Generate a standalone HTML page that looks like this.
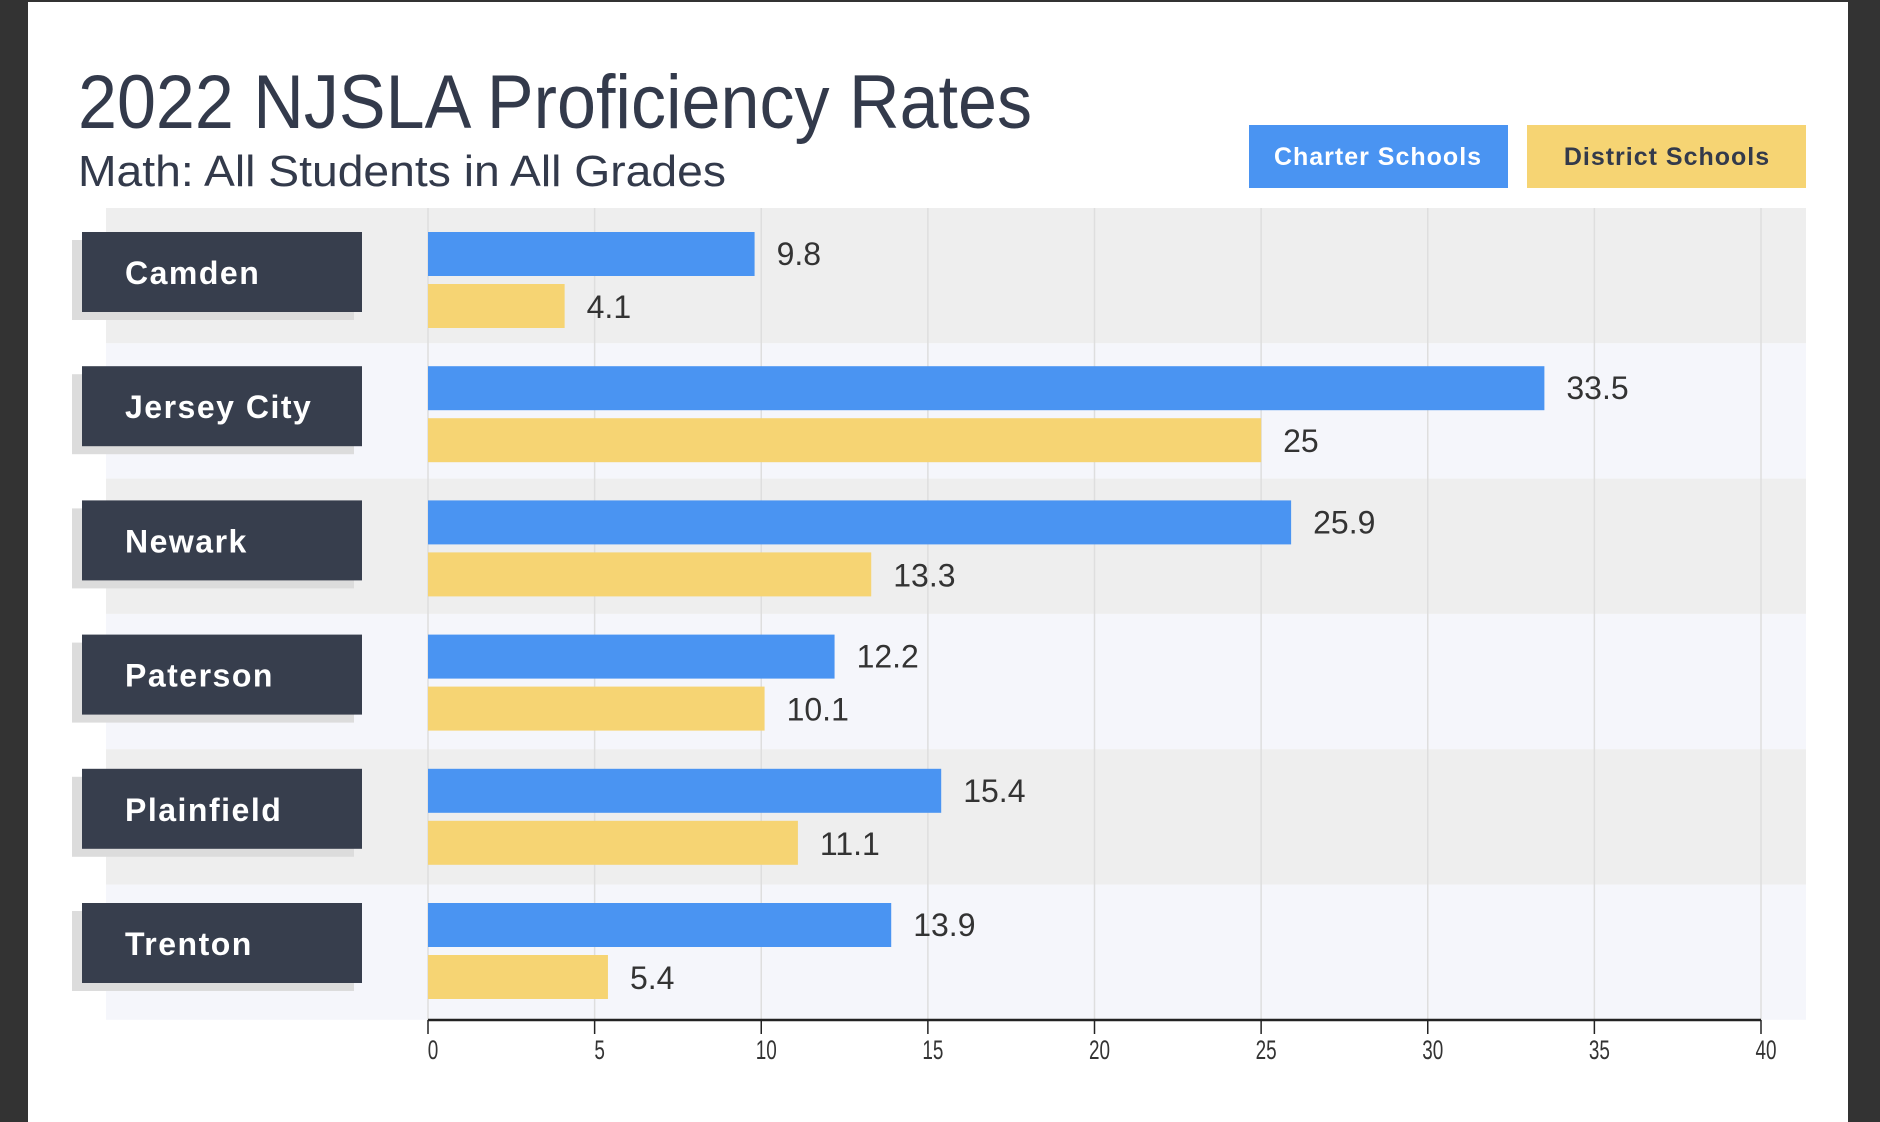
<!DOCTYPE html>
<html><head><meta charset="utf-8"><style>
html,body{margin:0;padding:0;background:#fff}
svg{display:block;font-family:"Liberation Sans",sans-serif}
</style></head><body>
<svg id="chart" width="1880" height="1122" viewBox="0 0 1880 1122">
<rect x="0" y="0" width="1880" height="1122" fill="#fff"/>
<rect x="0" y="0" width="28" height="1122" fill="#333"/>
<rect x="1848" y="0" width="32" height="1122" fill="#333"/>
<rect x="0" y="0" width="1880" height="2" fill="#333"/>
<text x="78" y="128" font-size="76" fill="#333a4b" textLength="954" lengthAdjust="spacingAndGlyphs">2022 NJSLA Proficiency Rates</text>
<text x="78" y="186" font-size="44" fill="#333a4b" textLength="648" lengthAdjust="spacingAndGlyphs">Math: All Students in All Grades</text>
<g>
<rect x="1249" y="125" width="259" height="63" fill="#4a94f2"/>
<text x="1378" y="165" font-size="25" font-weight="bold" fill="#fff" text-anchor="middle" letter-spacing="1">Charter Schools</text>
<rect x="1527" y="125" width="279" height="63" fill="#f6d473"/>
<text x="1667" y="165" font-size="25" font-weight="bold" fill="#333a4b" text-anchor="middle" letter-spacing="1">District Schools</text>
</g>
<g id="bands"></g><g id="grid"></g><g id="bars"></g><g id="axis"></g><g id="labels"></g>
</svg>
<script>
const categories = ["Camden","Jersey City","Newark","Paterson","Plainfield","Trenton"];
const charterValues = [9.8,33.5,25.9,12.2,15.4,13.9];
const districtValues = [4.1,25,13.3,10.1,11.1,5.4];
const tickValues = [0,5,10,15,20,25,30,35,40];

const NS="http://www.w3.org/2000/svg";
const X0=428, X1=1761, XMAX=40;
const BAND_TOP=208, BAND_H=135.3;
const ROW_TOP=232, ROW_H=134.2;
function x(v){return X0+(v/XMAX)*(X1-X0);}
function bandY(i){return BAND_TOP+i*BAND_H;}
function rowY(i){return ROW_TOP+i*ROW_H;}
function mk(tag,attrs,parent){const e=document.createElementNS(NS,tag);for(const k in attrs)e.setAttribute(k,attrs[k]);parent.appendChild(e);return e;}
const bands=document.getElementById('bands'),grid=document.getElementById('grid'),bars=document.getElementById('bars'),axis=document.getElementById('axis'),labels=document.getElementById('labels');

categories.forEach((c,i)=>{
  const y=bandY(i), r=rowY(i);
  const b=mk('rect',{x:106,y:y,width:1700,height:BAND_H,fill:i%2?'#f5f6fb':'#eeeeee'},bands);
  
  
  const sh=mk('rect',{x:72,y:r+8,width:282,height:80,fill:'#dcdcdc'},labels);
  
  
  const bx=mk('rect',{x:82,y:r,width:280,height:80,fill:'#373e4d'},labels);
  
  
  const t=mk('text',{x:125,y:r+52,'font-size':32,'font-weight':'bold',fill:'#fff','letter-spacing':1.5},labels);
  t.textContent=c;
  
  

  const cb=mk('rect',{x:X0,y:r,width:x(charterValues[i])-X0,height:44,fill:'#4a94f2'},bars);
  
  
  const ct=mk('text',{x:x(charterValues[i])+22,y:r+33,'font-size':32,fill:'#333'},bars);
  ct.textContent=charterValues[i];
  
  
  const db=mk('rect',{x:X0,y:r+52,width:x(districtValues[i])-X0,height:44,fill:'#f6d473'},bars);
  
  
  const dt=mk('text',{x:x(districtValues[i])+22,y:r+86,'font-size':32,fill:'#333'},bars);
  dt.textContent=districtValues[i];
  
  
});

tickValues.forEach(v=>{
  const g=mk('line',{x1:x(v),x2:x(v),y1:BAND_TOP,y2:1020,stroke:'#dedede','stroke-width':1.5},grid);
  
  
  const tk=mk('line',{x1:x(v),x2:x(v),y1:1020,y2:1034,stroke:'#222','stroke-width':1.5},axis);
  
  
  const cx=x(v)+5;
  const tl=mk('text',{x:cx,y:1059,'font-size':27,fill:'#333','text-anchor':'middle',transform:`translate(${cx},0) scale(0.7,1) translate(${-cx},0)`},axis);
  tl.textContent=v;
  
  
});
const al=mk('line',{x1:X0,x2:X1,y1:1020,y2:1020,stroke:'#222','stroke-width':2.5},axis);


</script>
</body></html>
